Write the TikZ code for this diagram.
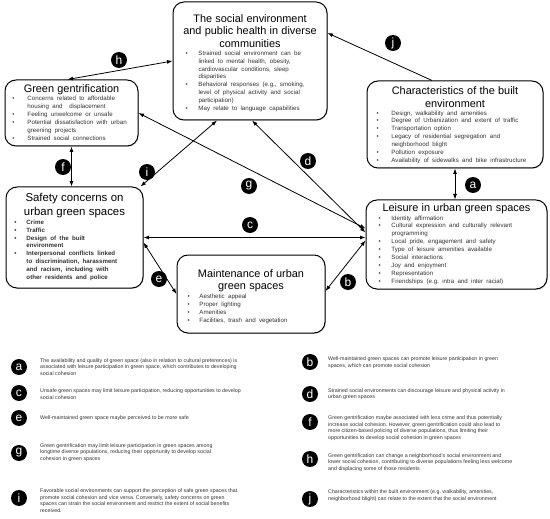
\documentclass[tikz,border=0pt]{standalone}
\usepackage{fontspec}
\setmainfont{Liberation Sans}
\usepackage{tikz}
\usetikzlibrary{arrows.meta,shadows}
\frenchspacing

\newcommand{\ttlfnt}{\fontsize{10.9}{12.8}\selectfont}
\newcommand{\bigttlfnt}{\fontsize{11.4}{14}\selectfont}
\newcommand{\itmfnt}{\fontsize{6.15}{7.9}\selectfont\color{black!80}}
\newcommand{\notefnt}{\fontsize{5.3}{6.7}\selectfont}
\newcommand{\topgap}[1]{\rule{0pt}{\dimexpr 8pt+#1\relax}}
\newcommand{\blist}[4][]{\makebox[\linewidth][l]{\hspace*{#2}\itmfnt#1\begin{tabular}{@{}p{#3}@{}l@{}}#4\end{tabular}}}

\begin{document}
\begin{tikzpicture}[x=1pt, y=-1pt,
  box/.style={draw, line width=1pt, rounded corners=11pt, inner sep=3pt, align=center, fill=white,
    drop shadow={shadow xshift=0.8pt, shadow yshift=-0.8pt, fill=black!35}},
  key/.style={circle, fill=black, text=white, minimum size=16pt, inner sep=0pt, font=\fontsize{12}{12}\selectfont},
  arr/.style={line width=0.8pt, {Latex[length=5.5pt,width=4pt]}-{Latex[length=5.5pt,width=4pt]}},
  onearr/.style={line width=0.8pt, -{Latex[length=5.5pt,width=4pt]}},
  note/.style={anchor=west, align=left, inner sep=0pt, font=\notefnt, text=black!80}]

\useasboundingbox (0,0) rectangle (550,519);

\node[box, text width=148pt, minimum height=118pt] (soc) at (250,61) {%
  {\ttlfnt\topgap{5pt}The social environment\\and public health in diverse\\communities\par}
  \vspace{1pt}
  \blist{9.5pt}{13pt}{%
  \textbullet & Strained social environment can be\\
  & linked to mental health, obesity,\\
  & cardiovascular conditions, sleep\\
  & disparities\\
  \textbullet & Behavioral responses (e.g., smoking,\\
  & level of physical activity and social\\
  & participation)\\
  \textbullet & May relate to language capabilities}};

\node[box, text width=127pt, minimum height=66pt] (gg) at (71.5,113) {%
  {\ttlfnt\topgap{1pt}Green gentrification\par}
  \blist{4.5pt}{15pt}{%
  \textbullet & Concerns related to affordable\\
  & housing and\ \ displacement\\
  \textbullet & Feeling unwelcome or unsafe\\
  \textbullet & Potential dissatisfaction with urban\\
  & greening projects\\
  \textbullet & Strained social connections}};

\node[box, text width=170pt, minimum height=87pt] (built) at (455,124.5) {%
  {\ttlfnt\topgap{2.5pt}Characteristics of the built\\environment\par}
  \vspace{1pt}
  \blist{6.5pt}{15pt}{%
  \textbullet & Design, walkability and amenities\\
  \textbullet & Degree of Urbanization and extent of traffic\\
  \textbullet & Transportation option\\
  \textbullet & Legacy of residential segregation and\\
  & neighborhood blight\\
  \textbullet & Pollution exposure\\
  \textbullet & Availability of sidewalks and bike infrastructure}};

\node[box, text width=131pt, minimum height=101pt] (safety) at (74.5,237.5) {%
  {\bigttlfnt Safety concerns on\\urban green spaces\par}
  \blist[\bfseries]{5.5pt}{12pt}{%
  \textbullet & Crime\\
  \textbullet & Traffic\\
  \textbullet & Design of the built\\
  & environment\\
  \textbullet & Interpersonal conflicts linked\\
  & to discrimination, harassment\\
  & and racism, including with\\
  & other residents and police}};

\node[box, text width=175pt, minimum height=89pt] (leisure) at (456.5,244.5) {%
  {\ttlfnt Leisure in urban green spaces\par}
  \blist{9.5pt}{13pt}{%
  \textbullet & Identity affirmation\\
  \textbullet & Cultural expression and culturally relevant\\
  & programming\\
  \textbullet & Local pride, engagement and safety\\
  \textbullet & Type of leisure amenities available\\
  \textbullet & Social interactions\\
  \textbullet & Joy and enjoyment\\
  \textbullet & Representation\\
  \textbullet & Friendships (e.g. intra and inter racial)}};

\node[box, text width=142pt, minimum height=78pt] (maint) at (251,294) {%
  {\ttlfnt\topgap{6pt}Maintenance of urban\\green spaces\par}
  \blist{7.5pt}{12pt}{%
  \textbullet & Aesthetic appeal\\
  \textbullet & Proper lighting\\
  \textbullet & Amenities\\
  \textbullet & Facilities, trash and vegetation}};

\draw[arr] ([xshift=-4pt]gg.north) -- (soc.west);
\draw[onearr] ([xshift=-23pt]built.north) -- ([yshift=28pt]soc.east);
\draw[arr] (built.south) -- (built.south |- leisure.north);
\draw[arr] (gg.south) -- (gg.south |- safety.north);
\draw[arr] ([xshift=-33pt]soc.south) -- ([xshift=-3pt]safety.north east);
\draw[arr] ([xshift=2pt]soc.south) -- ([yshift=12pt]leisure.west);
\draw[arr] (gg.east) -- ([yshift=16pt]leisure.west);
\draw[arr] (safety.east) -- (safety.east -| leisure.west);
\draw[arr] ([yshift=-5pt]safety.east) -- (maint.west);
\draw[arr] ([yshift=3pt]maint.east) -- ([yshift=4pt]leisure.west);

\node[key] (lab-h) at (119,60) {h};
\node[key] (lab-j) at (393,43) {j};
\node[key] (lab-a) at (473,185) {a};
\node[key] (lab-d) at (308,161) {d};
\node[key] (lab-g) at (249,186) {g};
\node[key] (lab-i) at (147,172) {i};
\node[key] (lab-c) at (250,225) {c};
\node[key] (lab-f) at (63,167) {f};
\node[key] (lab-e) at (159,279) {e};
\node[key] (lab-b) at (348,282) {b};

\node[key] (key-a) at (19,367) {a};
\node[note] (note-a) at (40,367) {The availability and quality of green space (also in relation to cultural preferences) is\\associated with leisure participation in green space, which contributes to developing\\social cohesion};
\node[key] (key-c) at (19,393) {c};
\node[note] (note-c) at (40,394) {Unsafe green spaces may limit leisure participation, reducing opportunities to develop\\social cohesion};
\node[key] (key-e) at (19,418) {e};
\node[note] (note-e) at (40,418) {Well-maintained green space maybe perceived to be more safe};
\node[key] (key-g) at (19,453) {g};
\node[note] (note-g) at (40,452.5) {Green gentrification may limit leisure participation in green spaces among\\longtime diverse populations, reducing their opportunity to develop social\\cohesion in green spaces};
\node[key] (key-i) at (19,498) {i};
\node[note] (note-i) at (40,500.5) {Favorable social environments can support the perception of safe green spaces that\\promote social cohesion and vice versa. Conversely, safety concerns on green\\spaces can strain the social environment and restrict the extent of social benefits\\received.};

\node[key] (key-b) at (310,362) {b};
\node[note] (note-b) at (328,362.5) {Well-maintained green spaces can promote leisure participation in green\\spaces, which can promote social cohesion};
\node[key] (key-d) at (310,394) {d};
\node[note] (note-d) at (328,394) {Strained social environments can discourage leisure and physical activity in\\urban green spaces};
\node[key] (key-f) at (310,422) {f};
\node[note] (note-f) at (328,428) {Green gentrification maybe associated with less crime and thus potentially\\increase social cohesion. However, green gentrification could also lead to\\more citizen-based policing of diverse populations, thus limiting their\\opportunities to develop social cohesion in green spaces};
\node[key] (key-h) at (310,459) {h};
\node[note] (note-h) at (328,462.5) {Green gentrification can change a neighborhood's social environment and\\lower social cohesion, contributing to diverse populations feeling less welcome\\and displacing some of those residents};
\node[key] (key-j) at (310,499) {j};
\node[note] (note-j) at (328,495.5) {Characteristics within the built environment (e.g. walkability, amenities,\\neighborhood blight) can relate to the extent that the social environment};
\end{tikzpicture}
\end{document}
